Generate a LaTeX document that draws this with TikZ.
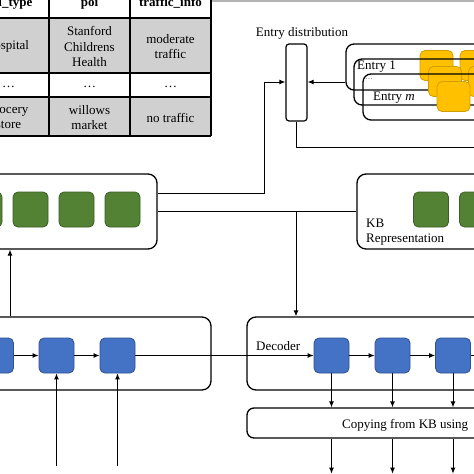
\documentclass[tikz,border=0pt]{standalone}
\usepackage{fontspec}
\setmainfont{Liberation Serif}
\usetikzlibrary{arrows.meta}
\definecolor{gfill}{HTML}{548235}
\definecolor{gdraw}{HTML}{3B5E26}
\definecolor{bfill}{HTML}{4472C4}
\definecolor{bdraw}{HTML}{2F528F}
\definecolor{yfill}{HTML}{FFC000}
\definecolor{ydraw}{HTML}{D19E00}
\definecolor{tgray}{HTML}{D0D0D0}
\definecolor{bargray}{HTML}{B4B4B4}
\tikzset{
  bigbox/.style={draw, line width=1.3pt, rounded corners=9pt, minimum width=#1, inner sep=0pt},
  gsq/.style={draw=gdraw, fill=gfill, rounded corners=5pt, minimum width=35pt, minimum height=35pt, inner sep=0pt, line width=0.8pt},
  bsq/.style={draw=bdraw, fill=bfill, rounded corners=5pt, minimum width=35pt, minimum height=35pt, inner sep=0pt, line width=0.8pt},
  ysq/.style={draw=ydraw, fill=yfill, rounded corners=5pt, minimum width=33pt, minimum height=30pt, inner sep=0pt, line width=0.8pt},
  arr/.style={-{Latex[length=6pt,width=5pt]}, line width=1pt},
  ln/.style={line width=1pt},
  tcell/.style={align=center, inner sep=0pt},
  thead/.style={font=\fontsize{13}{15.5}\selectfont\bfseries, inner sep=0pt, anchor=base},
  lbl/.style={inner sep=0pt, anchor=west},
}
\begin{document}
\begin{tikzpicture}[x=1pt,y=-1pt,font=\fontsize{13}{15.5}\selectfont]
\useasboundingbox (0,0) rectangle (474,474);
\clip (0,0) rectangle (474,474);
\fill[white] (0,0) rectangle (474,474);
% gray bar at top
\fill[bargray] (211,0) rectangle (474,2);

% ---------------- table ----------------
\fill[tgray] (-40,18) rectangle (211,73);
\fill[tgray] (-40,97) rectangle (211,136);
\draw[line width=1.6pt] (-40,18) -- (211,18);
\draw[line width=1.4pt] (-40,73) -- (211,73);
\draw[line width=1.4pt] (-40,97) -- (211,97);
\draw[line width=1.4pt] (-40,136) -- (211,136);
\draw[line width=1.4pt] (49,-20) -- (49,136);
\draw[line width=1.4pt] (130,-20) -- (130,136);
\draw[line width=1.4pt] (211,-20) -- (211,136);
\node[thead] (h1) at (8.5,6) {poi\_type};
\node[thead] (h2) at (89.5,6) {poi};
\node[thead] (h3) at (170.5,6) {traffic\_info};
\node[tcell] (c11) at (8.5,46) {hospital};
\node[tcell] (c12) at (89.5,46.5) {Stanford\\Childrens\\Health};
\node[tcell] (c13) at (170.5,46.5) {moderate\\traffic};
\node[tcell] (c21) at (8.5,87) {\ldots};
\node[tcell] (c22) at (89.5,87) {\ldots};
\node[tcell] (c23) at (170.5,87) {\ldots};
\node[tcell] (c31) at (8.5,117.5) {grocery\\store};
\node[tcell] (c32) at (89.5,117.5) {willows\\market};
\node[tcell] (c33) at (170.5,117.5) {no traffic};

% ---------------- entry distribution ----------------
\node[lbl, anchor=center] (edlbl) at (302,33) {Entry distribution};
\node[draw, line width=1.2pt, rounded corners=3pt, minimum width=21pt, minimum height=77pt, inner sep=0pt] (edist) at (296.5,82.5) {};

% ---------------- entries ----------------
\node[bigbox=214pt, minimum height=46pt, rounded corners=8pt] (entA) at (453,67) {};
\node[ysq] (y11) at (436.5,65.5) {};
\node[ysq] (y12) at (476.5,65.5) {};
\node[bigbox=206pt, minimum height=46pt, rounded corners=8pt] (entB) at (457,82) {};
\node[ysq] (y21) at (445,81.5) {};
\node[ysq] (y22) at (485,81.5) {};
\node[bigbox=197pt, minimum height=46pt, rounded corners=8pt] (entC) at (461.5,97) {};
\node[ysq] (y31) at (453.5,96.5) {};
\node[ysq] (y32) at (493.5,96.5) {};
\node[lbl] (e1lbl) at (357,67) {Entry 1};
\node[lbl, font=\fontsize{8}{9}\selectfont, text=black!60] (edots) at (365,79) {\ldots};
\node[lbl] (emlbl) at (373,98) {Entry \textit{m}};

% ---------------- hidden (encoder output) ----------------
\node[bigbox=217pt, minimum height=75pt] (hid) at (48.5,211.5) {};
\node[gsq] (g0) at (-15.5,209.5) {};
\node[gsq] (g1) at (30.5,209.5) {};
\node[gsq] (g2) at (76.5,209.5) {};
\node[gsq] (g3) at (122.5,209.5) {};

% ---------------- KB representation ----------------
\node[bigbox=203pt, minimum height=75pt] (kb) at (458.5,211.5) {};
\node[gsq] (k1) at (431,209.5) {};
\node[gsq] (k2) at (477,209.5) {};
\node[lbl, align=left] (kblbl) at (366,232) {KB\\Representation};

% ---------------- encoder ----------------
\node[bigbox=271pt, minimum height=73pt] (enc) at (75.5,353.5) {};
\node[bsq] (e1) at (-4,355.5) {};
\node[bsq] (e2) at (56.5,355.5) {};
\node[bsq] (e3) at (117.5,355.5) {};

% ---------------- decoder ----------------
\node[bigbox=313pt, minimum height=73pt] (dec) at (403.5,353.5) {};
\node[lbl] (declbl) at (256,346) {Decoder};
\node[bsq] (d1) at (331.5,355.5) {};
\node[bsq] (d2) at (392.5,355.5) {};
\node[bsq] (d3) at (453,355.5) {};

% ---------------- copy ----------------
\node[bigbox=313pt, minimum height=30pt, rounded corners=7pt] (copy) at (403.5,423) {};
\node[lbl] (copylbl) at (342,425) {Copying from KB using};

% ---------------- connectors ----------------
\coordinate (etop) at (264,82);
\draw[arr] (hid.east |- 0,193) -- (etop |- 0,193) -- (etop) -- (edist.west |- etop);
\draw[arr] (entA.west |- etop) -- (edist.east |- etop);
\draw[ln] (edist.south) -- (edist.south |- 0,147) -- (480,147);
\draw[ln] (hid.east) -- (kb.west);
\coordinate (br) at (296,211.5);
\draw[arr] (br) -- (br |- dec.north);
\draw[arr] (enc.north -| 10,0) -- (hid.south -| 10,0);

\draw[arr] (e1) -- (e2);
\draw[arr] (e2) -- (e3);
\draw[arr] (e3) -- (d1);
\draw[arr] (d1) -- (d2);
\draw[arr] (d2) -- (d3);
\coordinate (dout) at (480,355.5);
\draw[ln] (d3) -- (dout);

\coordinate (in2) at (56.5,466);
\coordinate (in3) at (117.5,466);
\draw[arr] (in2) -- (e2.south);
\draw[arr] (in3) -- (e3.south);

\foreach \d in {d1,d2,d3}{
  \draw[arr] (\d.south) -- (\d.south |- copy.north);
  \draw[arr] (copy.south -| \d) -- ++(0,35);
}
\end{tikzpicture}
\end{document}
